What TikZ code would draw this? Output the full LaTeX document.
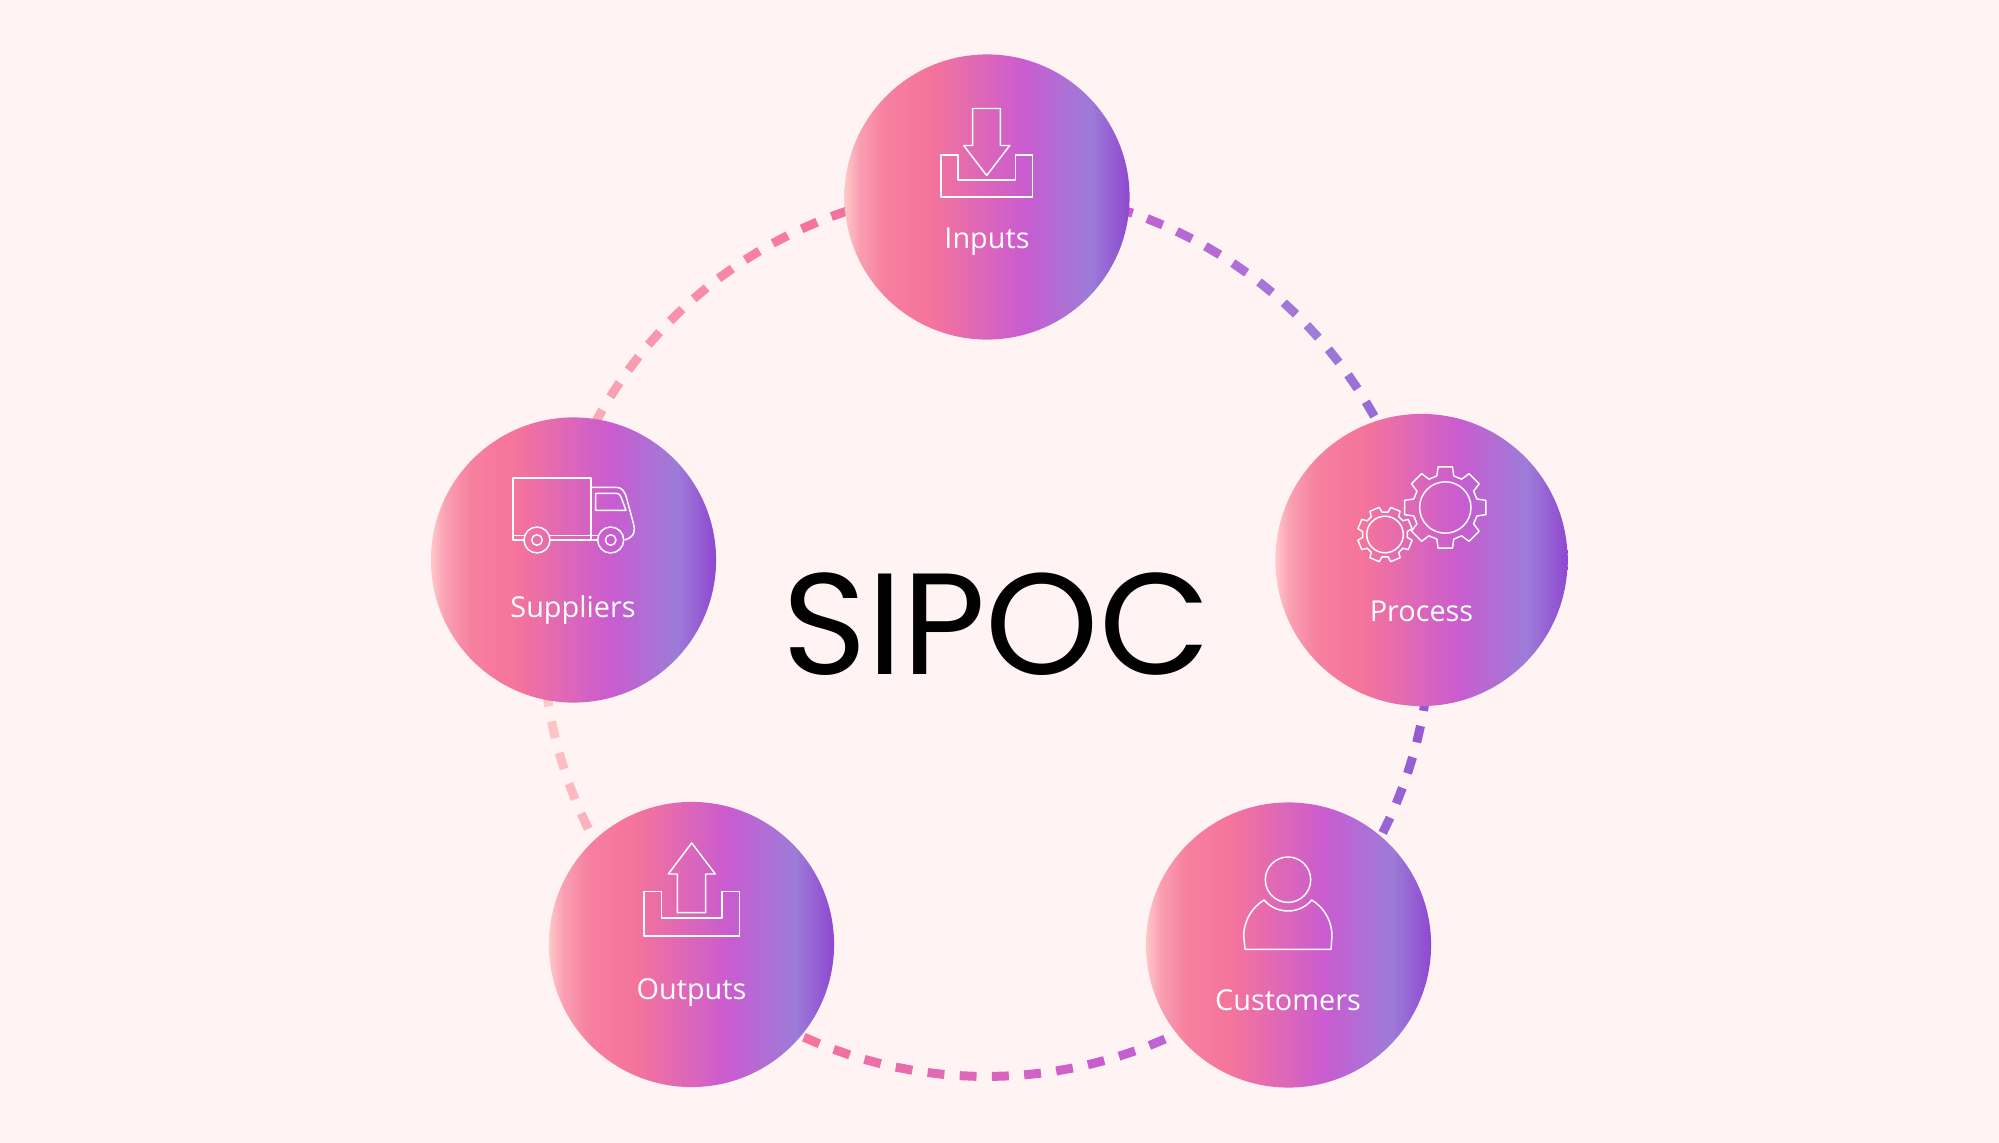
\documentclass[tikz,border=0pt]{standalone}
\usepackage{fontspec}
\usetikzlibrary{calc}
\newfontfamily\petalfont{Open Sans}
\newfontfamily\hubfont{Poppins}

\definecolor{pagetone}{HTML}{FFF4F3}
\definecolor{petalA}{HTML}{FFC8C8}
\definecolor{petalB}{HTML}{F9A0B2}
\definecolor{petalG}{HTML}{F6809F}
\definecolor{petalC}{HTML}{F5749B}
\definecolor{petalD}{HTML}{C95CD0}
\definecolor{petalE}{HTML}{9D7CD8}
\definecolor{petalF}{HTML}{8F48D0}

\pgfdeclarehorizontalshading{petalshade}{100bp}{color(0bp)=(petalA); color(25bp)=(petalA); color(27.5bp)=(petalB); color(32bp)=(petalG); color(40bp)=(petalC); color(56.5bp)=(petalD); color(68bp)=(petalE); color(75bp)=(petalF); color(100bp)=(petalF)}

\tikzset{
    petal/.style={circle, inner sep=0pt, minimum size=2.85cm, shade, shading=petalshade},
    petaltext/.style={anchor=base, inner sep=0pt, text=white, font=\petalfont\fontsize{8.2}{10}\selectfont},
    hubtext/.style={anchor=base, inner sep=0pt, text=black, font=\hubfont\fontsize{41}{48}\selectfont},
    iconline/.style={draw=white, line width=0.42pt, line join=round},
    ringdash/.style={line width=2.55pt}
}

\newcommand{\stepringtone}[3]{%
    \pgfmathsetmacro\ringpart{max(0,min(100,(\ringx-#2)/(#3-#2)*100))}%
    \colorlet{ringtone}{#1!\ringpart!ringtone}}

\newcommand{\gearicon}[7]{%
    \draw[iconline, shift={(#1,#2)}] (#7-#6:#4)
        \foreach \t in {0,45,...,315} {
            -- (#7+\t-#6:#4) -- (#7+\t-#5:#3) -- (#7+\t+#5:#3) -- (#7+\t+#6:#4)
        } -- cycle;}

\begin{document}
\begin{tikzpicture}[x=0.01cm, y=-0.01cm]
    \useasboundingbox (0,0) rectangle (1999,1143);
    \fill[pagetone] (0,0) rectangle (1999,1143);

    \coordinate (hub) at (986.5,632.5);
    \foreach \k in {-1,...,76} {
        \pgfmathsetmacro\ringa{13.24+4.165*\k}
        \pgfmathsetmacro\ringx{986.5+444*cos(\ringa)}
        \colorlet{ringtone}{petalA}
        \stepringtone{petalB}{545}{615}
        \stepringtone{petalC}{615}{810}
        \stepringtone{petalD}{810}{1105}
        \stepringtone{petalE}{1105}{1315}
        \stepringtone{petalF}{1315}{1480}
        \draw[ringdash, ringtone] ($(hub)+(\ringa-1.09:444)$) -- ($(hub)+(\ringa+1.09:444)$);
    }

    \node[petal] (inputs) at (987,197) {};
    \node[petal, minimum size=2.92cm] (process) at (1421.5,560) {};
    \node[petal] (customers) at (1288.5,945) {};
    \node[petal] (outputs) at (691.5,944.5) {};
    \node[petal] (suppliers) at (573.5,560) {};

    \node[petaltext] (inputs text) at (987,248.5) {Inputs};
    \node[petaltext] (process text) at (1421.5,622) {Process};
    \node[petaltext] (customers text) at (1288,1010.5) {Customers};
    \node[petaltext] (outputs text) at (691.5,999.5) {Outputs};
    \node[petaltext] (suppliers text) at (573,617.5) {Suppliers};
    \node[hubtext] (hub text) at (996.5,674.5) {SIPOC};

    \draw[iconline] (941,154.8) -- (958,154.8) -- (958,179.8) -- (1015.7,179.8) -- (1015.7,154.8) -- (1032.7,154.8) -- (1032.7,197.2) -- (941,197.2) -- cycle;
    \draw[iconline] (972.7,108.5) -- (1000.3,108.5) -- (1000.3,145.5) -- (1009.7,145.5) -- (986.7,175.5) -- (963.7,145.5) -- (972.7,145.5) -- cycle;

    \draw[iconline] (644,891.7) -- (661.7,891.7) -- (661.7,918) -- (722,918) -- (722,891.7) -- (739.3,891.7) -- (739.3,936) -- (644,936) -- cycle;
    \draw[iconline] (691.7,843) -- (715.3,874) -- (705.7,874) -- (705.7,912.7) -- (677.3,912.7) -- (677.3,874) -- (668.3,874) -- cycle;

    \draw[iconline] (524,540) -- (513,540) -- (513,478) -- (591,478) -- (591,540);
    \draw[iconline] (513,535.3) -- (525.5,535.3);
    \draw[iconline] (548.5,535.3) -- (599,535.3);
    \draw[iconline] (550,540) -- (597.7,540);
    \draw[iconline] (591,487.3) -- (616,487.3) .. controls (622,487.3) and (624,491) .. (626,496) -- (633.3,523) .. controls (635.5,530) and (635,537) .. (624.7,540);
    \draw[iconline] (595.7,493.3) -- (616.7,493.3) .. controls (619,493.3) and (620,495) .. (621,497) -- (626,510.3) -- (595.7,510.3) -- cycle;
    \draw[iconline] (537,540) circle (13);
    \draw[iconline] (537,540) circle (5.3);
    \draw[iconline] (610.7,540) circle (13);
    \draw[iconline] (610.7,540) circle (5.3);

    \draw[iconline] (1288,879.7) circle (22.7);
    \draw[iconline] (1264,900) .. controls (1271,908) and (1280,911) .. (1288,911) .. controls (1296,911) and (1305,908) .. (1311.7,900) .. controls (1325,908) and (1332,922) .. (1332,936) -- (1331,949.3) -- (1245,949.3) -- (1243.7,936) .. controls (1243.7,922) and (1251,908) .. (1264,900) -- cycle;

    \gearicon{1445.3}{507.5}{41.3}{32.7}{10}{15}{0}
    \draw[iconline] (1445.3,507.5) circle (25.7);
    \gearicon{1385}{534.5}{27.7}{22.5}{10.5}{15}{22.5}
    \draw[iconline] (1385,534.5) circle (18.3);
\end{tikzpicture}
\end{document}
